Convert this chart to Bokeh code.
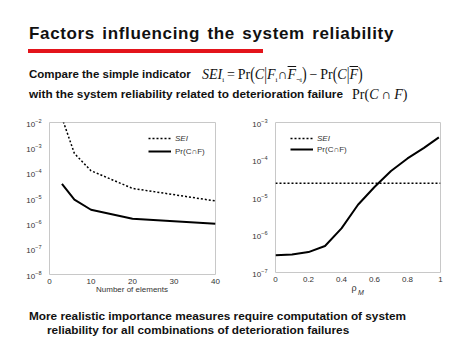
from bokeh.plotting import figure
from bokeh.layouts import column, row
from bokeh.models import Div, Legend, LegendItem, FixedTicker
from bokeh.embed import file_html
from bokeh.resources import INLINE

# ---- data ----
n_elements = [3, 6, 10, 20, 40]
sei_n = [1.54e-2, 6.0e-4, 1.25e-4, 2.5e-5, 8.0e-6]
pr_n = [3.8e-5, 9.0e-6, 3.6e-6, 1.6e-6, 1.0e-6]

rho = [0.0, 0.1, 0.2, 0.3, 0.4, 0.5, 0.6, 0.7, 0.8, 0.9, 0.99]
pr_rho = [2.9e-7, 3.0e-7, 3.5e-7, 5.1e-7, 1.5e-6, 6.4e-6, 1.9e-5, 5.1e-5, 1.1e-4, 2.1e-4, 4.0e-4]
sei_rho_x = [0.0, 1.0]
sei_rho = [2.4e-5, 2.4e-5]

x_ticks_left = [0, 10, 20, 30, 40]
y_ticks_left = [1e-8, 1e-7, 1e-6, 1e-5, 1e-4, 1e-3, 1e-2]
x_ticks_right = [0, 0.2, 0.4, 0.6, 0.8, 1.0]
y_ticks_right = [1e-7, 1e-6, 1e-5, 1e-4, 1e-3]

TXT = "#333333"
SANS = "Liberation Sans"


def style(p):
    p.outline_line_color = "#c8c8c8"
    p.outline_line_width = 1
    p.grid.visible = False
    p.background_fill_color = "white"
    p.border_fill_color = "white"
    for ax in (p.xaxis, p.yaxis):
        ax.axis_line_color = None
        ax.major_tick_line_color = None
        ax.minor_tick_line_color = None
        ax.major_label_text_font = SANS
        ax.major_label_text_font_size = "8px"
        ax.major_label_text_color = TXT
    p.xaxis.major_label_standoff = -2
    p.yaxis.major_label_standoff = 2


def add_legend(p, items, x, y, italic):
    lg = Legend(items=items, location=(x, y), padding=0, margin=0, spacing=0,
                border_line_color=None, background_fill_alpha=0,
                glyph_height=12, label_height=12, glyph_width=23,
                label_standoff=4, label_text_font=SANS,
                label_text_font_size="8px", label_text_color=TXT,
                label_text_font_style="italic" if italic else "normal")
    p.add_layout(lg)


# ---- left figure ----
p1 = figure(x_range=(0, 40), y_range=(1e-8, 1e-2), y_axis_type="log",
            frame_width=166, frame_height=152,
            min_border_left=49, min_border_right=25,
            min_border_top=10, min_border_bottom=11,
            output_backend="svg", toolbar_location=None)
style(p1)
p1.xaxis.ticker = FixedTicker(ticks=x_ticks_left)
p1.yaxis.ticker = FixedTicker(ticks=y_ticks_left)
r_sei1 = p1.line(n_elements, sei_n, line_color="black", line_width=1.5, line_dash="2 2")
r_pr1 = p1.line(n_elements, pr_n, line_color="black", line_width=2)
add_legend(p1, [LegendItem(label="SEI", renderers=[r_sei1])], 99, 130, True)
add_legend(p1, [LegendItem(label="Pr(C∩F)", renderers=[r_pr1])], 99, 117, False)

# ---- right figure ----
p2 = figure(x_range=(0, 1), y_range=(1e-7, 1e-3), y_axis_type="log",
            frame_width=165, frame_height=150,
            min_border_left=35, min_border_right=34,
            min_border_top=12, min_border_bottom=11,
            output_backend="svg", toolbar_location=None)
style(p2)
p2.xaxis.ticker = FixedTicker(ticks=x_ticks_right)
p2.yaxis.ticker = FixedTicker(ticks=y_ticks_right)
r_sei2 = p2.line(sei_rho_x, sei_rho, line_color="black", line_width=1.5, line_dash="2 2")
r_pr2 = p2.line(rho, pr_rho, line_color="black", line_width=2)
add_legend(p2, [LegendItem(label="SEI", renderers=[r_sei2])], 15, 128, True)
add_legend(p2, [LegendItem(label="Pr(C∩F)", renderers=[r_pr2])], 15, 117, False)

# ---- text blocks ----
BIG = "display:inline-block;transform:scale(1,1.35);font-style:normal"
SUB = "font-size:7px;position:relative;top:3px"
TS = "\u2009"
formula1 = (
    f"<i>SEI</i><span style='{SUB}'>i</span>{TS}={TS}Pr<span style='{BIG}'>(</span><i>C</i>"
    f"<span style='{BIG}'>|</span><i>F</i><span style='{SUB}'>i</span>∩"
    f"<i style='text-decoration:overline'>F</i><span style='{SUB}'>¬i</span>"
    f"<span style='{BIG}'>)</span>{TS}−{TS}Pr<span style='{BIG}'>(</span><i>C</i>"
    f"<span style='{BIG}'>|</span><i style='text-decoration:overline'>F</i>"
    f"<span style='{BIG}'>)</span>"
)
formula2 = f"Pr(<i>C</i>{TS}∩{TS}<i>F</i>)"

top_html = f"""
<div style="position:relative;width:474px;height:110px;white-space:nowrap;color:#111">
 <div style="position:absolute;left:29px;top:24.6px;font-family:'{SANS}';font-weight:bold;
      font-size:17px;line-height:17px;letter-spacing:0.65px;word-spacing:2px">Factors influencing the system reliability</div>
 <div style="position:absolute;left:28px;top:49px;width:235px;height:3.5px;background:#e3141b"></div>
 <div style="position:absolute;left:29px;top:69.3px;font-family:'{SANS}';font-weight:bold;
      font-size:11.5px;line-height:11.5px">Compare the simple indicator</div>
 <div style="position:absolute;left:29px;top:89.3px;font-family:'{SANS}';font-weight:bold;
      font-size:11.8px;line-height:11.8px">with the system reliability related to deterioration failure</div>
 <div style="position:absolute;left:202px;top:68.3px;font-family:'Liberation Serif';
      font-size:14px;line-height:14px">{formula1}</div>
 <div style="position:absolute;left:352px;top:87.8px;font-family:'Liberation Serif';
      font-size:14px;line-height:14px">{formula2}</div>
</div>
"""

bottom_html = f"""
<div style="position:relative;width:474px;height:66px;white-space:nowrap;color:#111">
 <div style="position:absolute;left:82px;width:100px;top:1.5px;text-align:center;font-family:'{SANS}';
      font-size:8px;line-height:8px;color:{TXT}">Number of elements</div>
 <div style="position:absolute;left:351.5px;top:0px;font-family:'{SANS}';
      font-size:9px;line-height:9px;color:{TXT}">ρ</div>
 <div style="position:absolute;left:358px;top:4.6px;font-family:'{SANS}';font-style:italic;
      font-size:7px;line-height:7px;color:{TXT}">M</div>
 <div style="position:absolute;left:29px;top:26.3px;font-family:'{SANS}';font-weight:bold;
      font-size:11.8px;line-height:13.5px">More realistic importance measures require computation of system<br>
 <span style="padding-left:18px">reliability for all combinations of deterioration failures</span></div>
</div>
"""

top_div = Div(text=top_html, width=474, height=110, margin=(0, 0, 0, 0))
bottom_div = Div(text=bottom_html, width=474, height=66, margin=(0, 0, 0, 0))

layout = column(top_div, row(p1, p2), bottom_div)

open("out.html", "w").write(file_html(layout, INLINE))
